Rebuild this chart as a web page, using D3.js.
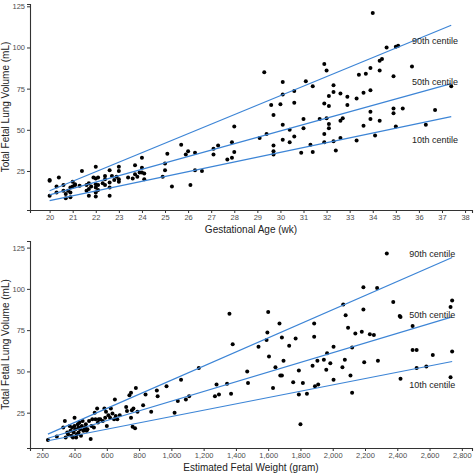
<!DOCTYPE html>
<html><head><meta charset="utf-8">
<script src="https://cdn.jsdelivr.net/npm/d3@7"></script>
<style>body{margin:0;background:#fff}text{font-family:"Liberation Sans",Arial,sans-serif}</style>
</head><body>
<div id="chart"></div>
<script>
// gestational age (wk) vs lung volume (mL)
var gaPoints = [[20,19.5],[20,19],[20,10],[20.3,12],[20.3,15.5],[20.4,21],[20.6,16.5],[20.6,13],[20.7,11],[20.7,8.5],[20.8,13],[20.9,12],[20.9,9],[20.9,15],[21,15.5],[21,18.5],[21.1,16.5],[21.1,17],[21.3,16],[21.4,25],[21.6,16.5],[21.6,13],[21.7,17.5],[21.7,10],[21.7,14],[21.8,15.5],[21.9,21],[22,27.5],[22,20.5],[22,17],[22,15],[22,12],[22,9.5],[22.1,21],[22.1,16.5],[22.1,13.5],[22.3,17.5],[22.4,22],[22.4,20],[22.4,16.5],[22.6,25.5],[22.6,18],[22.6,15],[22.6,10],[22.7,22],[22.8,19.5],[22.9,21.5],[23,27.5],[23,25],[23,20],[23,18.5],[23.4,21],[23.6,20.5],[23.7,28.5],[23.7,23],[23.8,21.5],[23.9,24],[24,33],[24,27],[24,24],[24.1,20],[24.1,23.5],[24.9,21.5],[25,29.5],[25,25.5],[25.1,35.5],[25.3,15.5],[25.7,41],[25.9,35],[26,37],[26.1,16.5],[26.3,36],[26.3,25.5],[26.6,25],[27.1,38.5],[27.1,35],[27.3,40.5],[27.7,32],[27.9,42.5],[27.9,33],[28,52],[28,36.5],[29.1,45],[29.3,85],[29.4,47.5],[29.6,65],[29.7,59],[29.7,40.5],[29.7,37],[29.7,35],[30,65.5],[30.1,79],[30.1,71.5],[30.1,53],[30.1,44],[30.4,50],[30.4,42.5],[30.6,73.5],[30.6,66.5],[30.6,46],[30.9,36],[31,56.5],[31,51],[31.1,79.5],[31.3,41],[31.4,76.5],[31.4,36.5],[31.7,56.5],[31.9,90],[31.9,66],[31.9,47.5],[31.9,42.5],[32,86],[32,57],[32.1,70.5],[32.1,64.5],[32.1,53.5],[32.1,51],[32.3,77],[32.3,73],[32.3,43],[32.4,37.5],[32.6,72],[32.6,55.5],[32.6,45],[32.7,57],[32.9,70],[32.9,65],[33.3,69],[33.3,43.5],[33.4,83.5],[33.6,72.5],[33.6,52.5],[33.7,84],[33.9,87.5],[33.9,74],[33.9,61],[33.9,56.5],[34,121],[34.1,46.5],[34.3,86],[34.3,55.5],[34.3,92],[34.4,93],[34.6,100],[34.9,82.5],[34.9,63],[34.9,60],[35,100.5],[35,52],[35.1,101],[35.3,63],[35.7,88.5],[36.3,53],[36.7,62],[37.4,76.5]];
var gaCentiles = [
  {label:"90th centile", p:[[20,13],[37.4,113.5]], ly:104},
  {label:"50th centile", p:[[20,10.5],[37.4,78]], ly:79},
  {label:"10th centile", p:[[20,7],[37.4,58]], ly:44}
];
// estimated fetal weight (g) vs lung volume (mL)
var efwPoints = [[235,8.5],[290,10.5],[330,16],[340,20],[345,10],[355,13],[360,12],[370,17],[375,14],[380,11],[385,16],[390,10],[395,13],[400,22],[400,17],[405,15],[410,10],[415,12],[420,18],[425,13],[425,16],[430,19],[435,15],[440,11],[445,17],[450,20],[455,14],[460,15],[465,16],[470,18],[475,14],[480,15],[490,20],[500,9],[505,17],[510,21],[520,16],[525,25],[530,21],[540,27.5],[545,19],[550,21],[560,21],[575,20],[585,27.5],[590,22],[595,25.5],[600,17],[610,23.5],[620,22],[625,27.5],[635,24.5],[645,21],[650,33],[655,23],[665,21],[680,23.5],[720,28.5],[725,26],[740,35.5],[750,37],[750,22],[755,26.5],[760,16.5],[765,27.5],[775,15.5],[780,40],[790,25.5],[825,29.5],[840,36],[875,25.5],[910,38.5],[915,35],[970,41],[1020,25],[1040,32],[1060,45],[1090,33],[1110,35],[1170,52],[1270,35],[1280,42],[1295,36],[1345,42.5],[1360,85],[1370,36.5],[1380,66.5],[1470,50],[1475,43],[1540,65],[1590,69],[1595,73.5],[1600,86],[1605,59],[1630,40],[1645,52.5],[1670,79],[1675,47.5],[1685,47.5],[1685,70.5],[1695,56.5],[1730,65.5],[1755,43.5],[1770,70],[1790,36],[1790,50.5],[1800,18],[1815,43],[1840,36.5],[1875,53.5],[1885,71],[1885,79],[1890,41],[1905,56.5],[1910,42],[1945,57],[1960,51],[1965,61],[1985,55],[2005,65],[2005,45],[2060,52.5],[2065,90.5],[2075,57],[2080,84],[2095,76.5],[2110,47.5],[2120,37],[2120,64.5],[2140,73],[2180,74],[2190,87.5],[2190,101],[2195,55.5],[2230,72.5],[2255,72],[2275,100.5],[2280,56.5],[2335,121.5],[2375,92],[2415,83.5],[2420,83],[2420,45.5],[2495,77.5],[2495,63],[2520,63],[2520,52],[2580,53],[2620,60],[2730,89],[2730,46.5],[2740,93],[2740,62]];
var efwCentiles = [
  {label:"90th centile", p:[[235,12],[2740,119]], ly:121},
  {label:"50th centile", p:[[235,9.5],[2740,83]], ly:84},
  {label:"10th centile", p:[[235,8],[2740,56]], ly:42}
];
var yTicks = [25,50,75,100,125];
var gaTicks = d3.range(20,39);
var efwTicks = d3.range(200,2801,200);

var w = 474, h = 474;
var svg = d3.select("#chart").append("svg").attr("width",w).attr("height",h);

function panel(cfg){
  var x = d3.scaleLinear().domain(cfg.xd).range([30,472]);
  var y = d3.scaleLinear().domain(cfg.yd).range([cfg.bottom,cfg.top]);
  var g = svg.append("g");

  var xa = g.append("g").attr("transform","translate(0,"+cfg.bottom+")")
    .call(d3.axisBottom(x).tickValues(cfg.xt).tickSize(3).tickPadding(2));
  var ya = g.append("g").attr("transform","translate(30,0)")
    .call(d3.axisLeft(y).tickValues(yTicks).tickSize(3).tickPadding(2));
  [xa,ya].forEach(function(a){
    a.select(".domain").attr("stroke","#333").attr("stroke-width",1.1);
    a.selectAll(".tick line").attr("stroke","#333");
    a.selectAll("text").attr("fill","#4d4d4d").attr("font-size",7.5);
  });

  g.selectAll("circle").data(cfg.pts).enter().append("circle")
    .attr("cx",function(d){return x(d[0]);})
    .attr("cy",function(d){return y(d[1]);})
    .attr("r",2).attr("fill","#000");

  var line = d3.line().x(function(d){return x(d[0]);}).y(function(d){return y(d[1]);});
  g.selectAll("path.cent").data(cfg.cent).enter().append("path").attr("class","cent")
    .attr("d",function(d){return line(d.p);})
    .attr("fill","none").attr("stroke","#3d85d6").attr("stroke-width",1.2);
  g.selectAll("text.cl").data(cfg.cent).enter().append("text").attr("class","cl")
    .attr("x",x(cfg.labelX)).attr("y",function(d){return y(d.ly);})
    .attr("text-anchor","end").attr("dy","0.35em")
    .attr("font-size",9).attr("fill","#222").text(function(d){return d.label;});

  g.append("text").attr("x",(30+472)/2).attr("y",cfg.bottom+23)
    .attr("text-anchor","middle").attr("font-size",10).attr("fill","#222").text(cfg.xlab);
  g.append("text").attr("transform","translate(9,"+((cfg.top+cfg.bottom)/2)+") rotate(-90)")
    .attr("text-anchor","middle").attr("font-size",10).attr("fill","#222").text("Total Fetal Lung Volume (mL)");
}

panel({xd:[19.15,38.3], yd:[1.3,126.4], top:4, bottom:210, xt:gaTicks, pts:gaPoints,
  cent:gaCentiles, labelX:37.7, xlab:"Gestational Age (wk)"});
panel({xd:[124,2863], yd:[3.6,129], top:241, bottom:448, xt:efwTicks, pts:efwPoints,
  cent:efwCentiles, labelX:2760, xlab:"Estimated Fetal Weight (gram)"});
</script>
</body></html>
